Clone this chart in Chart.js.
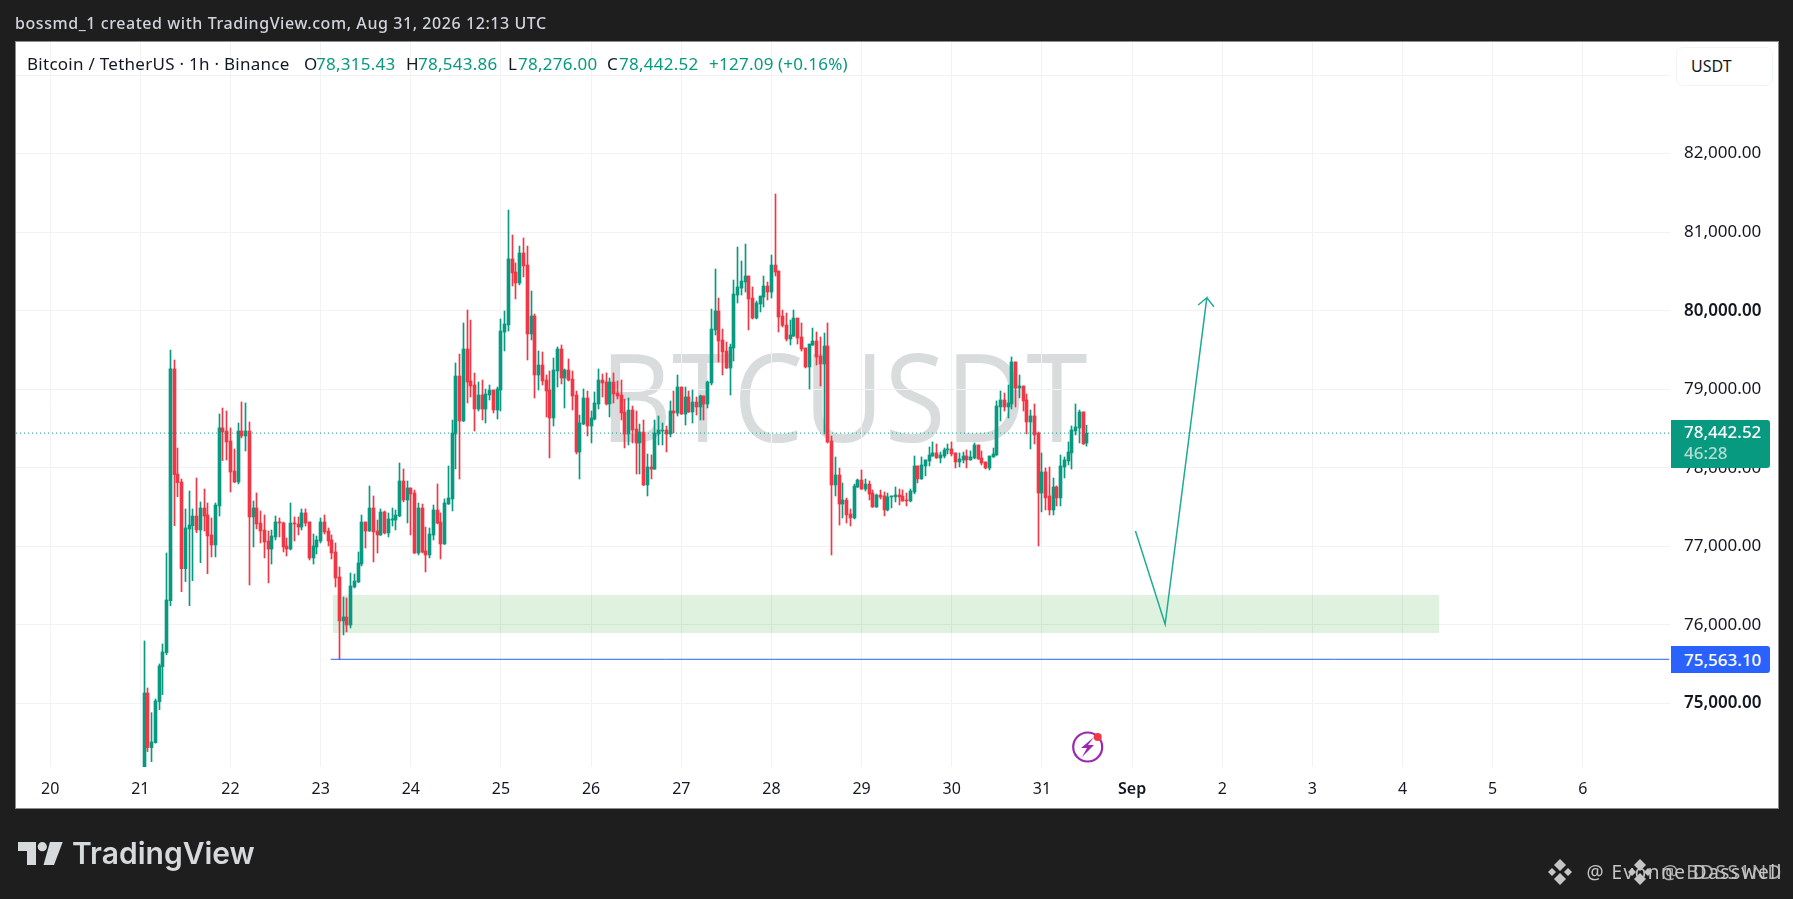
<!DOCTYPE html>
<html>
<head>
<meta charset="utf-8">
<script src="https://cdn.jsdelivr.net/npm/chart.js@4"></script>
<style>
html, body { margin: 0; padding: 0; background: #1e1e1e; width: 1793px; height: 899px; overflow: hidden; font-family: "Noto Sans", sans-serif; }
.abs { position: absolute; white-space: nowrap; }
#panel { left: 15px; top: 41px; width: 1762px; height: 766px; background: #fff; border: 1px solid #8c8c8c; }
#wm { left: 600px; top: 310px; font: 400 123px "Open Sans", sans-serif; line-height: 170px; color: #d9dcdd; transform-origin: 0 0; transform: scaleX(.905); }
canvas { position: absolute; left: 0; top: 0; display: block; }
#title { left: 15px; top: 11px; font-size: 16px; line-height: 24px; font-weight: 500; color: #d1d4dc; letter-spacing: .57px; }
.lg { top: 52px; font-size: 17px; line-height: 24px; color: #131722; letter-spacing: .27px; }
.up { color: #089981; }
#usdt { left: 1676px; top: 47px; width: 95px; height: 37px; border: 1px solid #f0f3fa; border-radius: 7px; background: #fff; font-size: 16px; line-height: 37px; text-indent: 14px; color: #131722; }
.tag { left: 1671px; width: 99px; border-radius: 0 3px 3px 0; color: #fff; font-size: 17px; font-weight: 500; text-indent: 13px; }
#tagLast { top: 420px; height: 48px; background: #089981; line-height: 24px; }
#tagLast div + div { color: #b5ddd4; margin-top: -3px; }
#tagLow { top: 646px; height: 27px; background: #2962ff; line-height: 27px; }
#logoText { left: 72px; top: 833px; font: 600 30px Inter, sans-serif; line-height: 40px; color: #d7dadb; letter-spacing: 0; }
.mark { font-size: 19px; line-height: 24px; color: #c4c6c6; top: 860px; right: 10px; letter-spacing: 1.5px; }
</style>
</head>
<body>
<div class="abs" id="panel"></div>
<div class="abs" id="wm">BTCUSDT</div>
<canvas id="chart" width="1793" height="899"></canvas>

<div class="abs" id="title">bossmd_1 created with TradingView.com, Aug 31, 2026 12:13 UTC</div>
<div class="abs lg" style="left:27px">Bitcoin / TetherUS · 1h · Binance</div>
<div class="abs lg" style="left:304px">O</div><div class="abs lg up" style="left:316px">78,315.43</div>
<div class="abs lg" style="left:406px">H</div><div class="abs lg up" style="left:418px">78,543.86</div>
<div class="abs lg" style="left:508px">L</div><div class="abs lg up" style="left:518px">78,276.00</div>
<div class="abs lg" style="left:607px">C</div><div class="abs lg up" style="left:619px">78,442.52</div>
<div class="abs lg up" style="left:709px">+127.09</div><div class="abs lg up" style="left:778px">(+0.16%)</div>
<div class="abs" id="usdt">USDT</div>
<div class="abs tag" id="tagLast"><div>78,442.52</div><div>46:28</div></div>
<div class="abs tag" id="tagLow">75,563.10</div>

<svg class="abs" style="left:0;top:0;pointer-events:none" width="1793" height="899">
  <circle cx="1087.7" cy="747" r="14.5" fill="#fff" stroke="#9c27b0" stroke-width="2.2"/>
  <polygon points="1094,737 1081,748 1087,748 1082,757 1094,745 1088,745" fill="#9c27b0"/>
  <circle cx="1097.7" cy="737" r="4" fill="#f23645"/>
  <polygon points="18,842 36,842 36,865 27,865 27,851 18,851" fill="#d7dadb"/>
  <circle cx="42.3" cy="846.7" r="4.6" fill="#d7dadb"/>
  <polygon points="50,842 62.7,842 54,865 43.5,865" fill="#d7dadb"/>
  <g fill="#c4c6c6">
    <polygon points="1560,859 1566,865 1560,871 1554,865"/><polygon points="1560,873 1566,879 1560,885 1554,879"/>
    <polygon points="1552,868 1556,872 1552,876 1548,872"/><polygon points="1568,868 1572,872 1568,876 1564,872"/>
    <polygon points="1640,859 1646,865 1640,871 1634,865"/><polygon points="1640,873 1646,879 1640,885 1634,879"/>
    <polygon points="1632,868 1636,872 1632,876 1628,872"/><polygon points="1648,868 1652,872 1648,876 1644,872"/>
  </g>
</svg>
<div class="abs" id="logoText">TradingView</div>
<div class="abs mark">@ Evonne Dasswell</div>
<div class="abs mark" style="opacity:.85">@ BDSS1ND</div>

<script>
// 1h candles, first one is Aug 21 01:00, hours counted from Aug 20 00:00
const FIRST_HOUR = 25;

const OPENS = [
  74150, 75134, 74439, 74502, 75024, 75470, 75648, 76310, 79259, 77922, 77820, 76717,
  77222, 77264, 77387, 77209, 77489, 77400, 77146, 77018, 77515, 78508, 78469, 78342,
  77960, 77820, 78469, 78406, 78469, 77375, 77489, 77298, 77209, 77069, 76967, 77120,
  77311, 77298, 77006, 76967, 77298, 77286, 77247, 77426, 77311, 76853, 76993, 77069,
  77311, 77196, 77082, 76929, 76611, 76051, 76102, 76000, 76484, 76547, 76776, 77311,
  77196, 77489, 77196, 77146, 77438, 77171, 77336, 77336, 77387, 77833, 77591, 77744,
  77680, 76916, 77489, 76942, 76891, 77145, 77464, 77311, 77031, 77540, 77604, 78431,
  79169, 78597, 79513, 79106, 79055, 78749, 78928, 78749, 78928, 78991, 78737, 78991,
  79729, 79819, 80659, 80493, 80353, 80735, 80582, 79704, 79933, 79182, 79309, 79118,
  78991, 78635, 79233, 79513, 79144, 79246, 79131, 78928, 78202, 78558, 78889, 78533,
  78622, 78813, 79118, 79093, 78813, 79093, 78953, 78927, 78711, 78431, 78736, 78495,
  78316, 78456, 77782, 78011, 77985, 78431, 78469, 78482, 78431, 78724, 78698, 79029,
  78685, 78902, 78711, 78838, 78775, 78915, 78813, 79080, 79755, 79997, 79627, 79487,
  79271, 79526, 80200, 80289, 80366, 80442, 80162, 79907, 80086, 80175, 80315, 80238,
  80582, 80506, 79933, 79818, 79640, 79678, 79907, 79666, 79526, 79284, 79564, 79615,
  79424, 79322, 79551, 78342, 77782, 77909, 77540, 77591, 77413, 77362, 77756, 77845,
  77731, 77794, 77680, 77502, 77654, 77642, 77464, 77630, 77630, 77655, 77642, 77591,
  77579, 77693, 78024, 77859, 78024, 78088, 78151, 78190, 78126, 78151, 78228, 78241,
  78190, 78075, 78101, 78151, 78101, 78126, 78291, 78126, 78075, 77999, 78139, 78164,
  78775, 78864, 78775, 78813, 79348, 79017, 79042, 78864, 78584, 78661, 78444, 77680,
  77948, 77642, 77464, 77757, 77617, 78011, 78088, 78190, 78470, 78508, 78712, 78315.43,
];

const HIGHS = [
  75796, 75198, 74884, 75058, 75504, 75758, 76916, 79500, 79373, 78253, 77858, 77477,
  77706, 77477, 77871, 77566, 77731, 77553, 77362, 77553, 78686, 78762, 78724, 78508,
  78240, 78571, 78839, 78826, 78584, 77578, 77680, 77451, 77400, 77196, 77209, 77387,
  77362, 77311, 77107, 77553, 77375, 77375, 77477, 77477, 77311, 77158, 77133, 77362,
  77400, 77235, 77146, 77044, 76738, 76356, 76344, 76662, 76649, 76929, 77400, 77311,
  77769, 77642, 77336, 77477, 77451, 77426, 77489, 77464, 78062, 77986, 77833, 77744,
  77718, 77553, 77540, 77247, 77235, 77527, 77795, 77426, 77604, 78024, 78609, 79335,
  79449, 79844, 80010, 79882, 79208, 79093, 79118, 79004, 79055, 78991, 79029, 79895,
  79997, 81282, 80964, 80608, 80824, 80926, 80824, 80251, 79959, 79488, 79475, 79182,
  79233, 79399, 79539, 79564, 79259, 79386, 79233, 78978, 78673, 79004, 78978, 78724,
  78966, 79259, 79195, 79208, 79144, 79208, 79106, 79118, 78876, 78889, 78787, 78724,
  78558, 78609, 78176, 78164, 78609, 78660, 78571, 78533, 78851, 78978, 79182, 79029,
  79029, 78978, 78991, 78902, 78927, 78915, 79105, 80022, 80531, 80162, 79767, 79602,
  79576, 80391, 80811, 80633, 80849, 80442, 80302, 80124, 80187, 80442, 80366, 80709,
  81486, 80506, 80009, 79971, 79882, 80009, 79907, 79844, 79526, 79576, 79780, 79729,
  79666, 79716, 79844, 78405, 78138, 77998, 77807, 77616, 77476, 77794, 77858, 77973,
  77858, 77833, 77718, 77667, 77718, 77693, 77680, 77642, 77757, 77731, 77719, 77680,
  77731, 78151, 78024, 78139, 78101, 78266, 78330, 78304, 78202, 78253, 78304, 78330,
  78190, 78190, 78202, 78228, 78215, 78317, 78291, 78215, 78075, 78151, 78253, 78852,
  78979, 78953, 79055, 79412, 79348, 79182, 79042, 78941, 78737, 78813, 78457, 78190,
  77999, 78011, 77871, 77770, 78164, 78139, 78330, 78533, 78813, 78737, 78712, 78543.86,
];

const LOWS = [
  74120, 74388, 74260, 74495, 74922, 75113, 75622, 76246, 77264, 77633, 76424, 76552,
  76246, 76564, 77175, 76793, 77196, 76653, 76866, 76866, 77387, 78092, 78100, 77693,
  77812, 77795, 78380, 78215, 76509, 76993, 77222, 77044, 76853, 76535, 76776, 77082,
  77120, 76929, 76878, 76955, 77069, 77146, 77209, 77260, 76827, 76776, 76904, 77044,
  77158, 77006, 76840, 76484, 75563, 75873, 75911, 75962, 76471, 76540, 76751, 76980,
  77190, 76802, 76916, 77140, 77158, 77120, 77260, 77209, 77380, 77566, 77298, 77146,
  76910, 76891, 76916, 76675, 76853, 77082, 77286, 76840, 77025, 77535, 77451, 77986,
  77858, 78590, 78826, 78902, 78469, 78724, 78609, 78571, 78864, 78698, 78622, 78724,
  79488, 79742, 80315, 80150, 80328, 80430, 79373, 79628, 78889, 78991, 79055, 78648,
  78126, 78533, 79029, 79068, 78762, 79106, 78737, 78177, 77858, 78550, 78406, 78317,
  78609, 78749, 78902, 78800, 78648, 78826, 78877, 78609, 78253, 78291, 78316, 77922,
  77922, 77775, 77642, 77858, 77980, 78291, 78291, 78202, 78393, 78444, 78660, 78680,
  78545, 78705, 78571, 78673, 78609, 78609, 78762, 79055, 79691, 79347, 79182, 79265,
  78927, 79360, 80098, 80200, 80238, 79755, 79895, 79895, 79984, 80047, 80137, 80162,
  80442, 79729, 79793, 79615, 79564, 79672, 79576, 79487, 79271, 79004, 79558, 79309,
  79042, 78431, 78316, 76891, 77642, 77272, 77362, 77298, 77260, 77349, 77750, 77725,
  77705, 77591, 77497, 77497, 77603, 77388, 77451, 77490, 77566, 77528, 77574, 77515,
  77566, 77668, 77808, 77854, 77897, 78024, 78146, 78121, 78062, 78126, 78177, 78151,
  77999, 78011, 78062, 77999, 78096, 78113, 78108, 78037, 77986, 77973, 78134, 78159,
  78597, 78724, 78635, 78750, 78775, 78890, 78724, 78431, 78241, 78304, 77006, 77439,
  77464, 77400, 77400, 77515, 77515, 77871, 78037, 77986, 78419, 78317, 78299, 78276.00,
];

const CLOSES = [
  75134, 74439, 74511, 75033, 75478, 75656, 76318, 79259, 77914, 77812, 76717, 77235,
  77273, 77387, 77209, 77489, 77387, 77133, 77018, 77527, 78508, 78457, 78329, 77947,
  77820, 78469, 78406, 78469, 77375, 77489, 77286, 77196, 77056, 76967, 77133, 77311,
  77298, 76993, 76967, 77298, 77286, 77247, 77426, 77298, 76853, 77006, 77082, 77311,
  77184, 77069, 76916, 76598, 76051, 76102, 76000, 76496, 76560, 76789, 77311, 77196,
  77489, 77184, 77146, 77438, 77171, 77349, 77349, 77400, 77833, 77591, 77744, 77667,
  76916, 77489, 76929, 76891, 77158, 77464, 77298, 77031, 77553, 77616, 78444, 79169,
  78597, 79513, 79093, 79042, 78749, 78928, 78749, 78940, 78991, 78737, 79004, 79742,
  79831, 80659, 80481, 80353, 80735, 80570, 79704, 79933, 79182, 79309, 79106, 78978,
  78635, 79246, 79513, 79144, 79246, 79118, 78915, 78202, 78571, 78889, 78533, 78635,
  78826, 79118, 79080, 78813, 79093, 78940, 78915, 78698, 78431, 78736, 78482, 78316,
  78456, 77782, 78011, 77985, 78444, 78482, 78482, 78431, 78724, 78698, 79029, 78685,
  78902, 78711, 78838, 78775, 78915, 78813, 79093, 79767, 79997, 79615, 79475, 79271,
  79538, 80213, 80302, 80378, 80442, 80149, 79907, 80098, 80187, 80315, 80238, 80582,
  80493, 79920, 79814, 79640, 79691, 79907, 79653, 79513, 79284, 79576, 79615, 79411,
  79322, 79551, 78329, 77782, 77909, 77540, 77591, 77400, 77362, 77769, 77845, 77731,
  77794, 77667, 77502, 77654, 77629, 77464, 77630, 77642, 77655, 77630, 77579, 77579,
  77706, 78024, 77859, 78037, 78101, 78164, 78190, 78126, 78164, 78228, 78241, 78177,
  78075, 78113, 78151, 78101, 78139, 78291, 78113, 78062, 77999, 78151, 78177, 78788,
  78864, 78775, 78826, 79348, 79017, 79042, 78852, 78584, 78661, 78419, 77680, 77948,
  77617, 77464, 77757, 77617, 78024, 78101, 78202, 78482, 78521, 78712, 78304, 78442.52,
];

const DAY_LABELS = ['20', '21', '22', '23', '24', '25', '26', '27', '28', '29', '30', '31', 'Sep', '2', '3', '4', '5', '6'];
const PRICE_TICKS = [75000, 76000, 77000, 78000, 79000, 80000, 81000, 82000, 83000];

const LAST_PRICE = 78442.52;
const LOW_LINE = 75563.10;
const LOW_LINE_HOURS = [74.7, 431];
const ZONE_TOP = 76381;
const ZONE_BOTTOM = 75898;
const ZONE_HOURS = [75.2, 369.8];
const ARROW_HOURS = [288.9, 296.8, 307.9, 305.6, 307.9, 309.8];
const ARROW_PRICES = [77196, 76008, 80166, 80073, 80166, 80051];

const X_MIN = -9.1, X_MAX = 431.2;
const Y_MIN = 74192, Y_MAX = 83421;

const UP = '#089981', DOWN = '#f23645';

const hours = OPENS.map((_, i) => FIRST_HOUR + i);
const colors = OPENS.map((o, i) => CLOSES[i] >= o ? UP : DOWN);
const fmt = v => v.toLocaleString('en-US', { minimumFractionDigits: 2, maximumFractionDigits: 2 });
const flatLine = (xs, y) => xs.map(x => ({ x, y }));

// keep wicks and bodies on whole pixels so they stay crisp
const snapBars = {
  id: 'snapBars',
  beforeDatasetsDraw(chart) {
    chart.getSortedVisibleDatasetMetas().forEach(meta => {
      if (meta.type !== 'bar') return;
      meta.data.forEach(el => { el.x = Math.floor(el.x) + 0.5; });
    });
  },
};

new Chart(document.getElementById('chart'), {
  type: 'bar',
  plugins: [snapBars],
  data: {
    datasets: [
      {
        type: 'line', label: 'arrow', order: 0,
        data: ARROW_HOURS.map((x, i) => ({ x, y: ARROW_PRICES[i] })),
        borderColor: '#22ab94', borderWidth: 1.5, pointRadius: 0, tension: 0,
      },
      {
        type: 'line', label: 'low', order: 1,
        data: flatLine(LOW_LINE_HOURS, LOW_LINE),
        borderColor: '#2962ff', borderWidth: 1, pointRadius: 0,
      },
      {
        label: 'body', order: 2,
        data: hours.map((x, i) => ({ x, y: [OPENS[i], CLOSES[i]] })),
        backgroundColor: colors, barThickness: 3, minBarLength: 1, grouped: false,
      },
      {
        label: 'wick', order: 3,
        data: hours.map((x, i) => ({ x, y: [LOWS[i], HIGHS[i]] })),
        backgroundColor: colors, barThickness: 1, grouped: false,
      },
      {
        type: 'line', label: 'last', order: 4,
        data: flatLine([X_MIN, X_MAX], LAST_PRICE),
        borderColor: UP, borderWidth: 1, borderDash: [1, 3], pointRadius: 0,
      },
      {
        type: 'line', label: 'zone', order: 5,
        data: flatLine(ZONE_HOURS, ZONE_TOP),
        borderWidth: 0, pointRadius: 0,
        fill: { target: { value: ZONE_BOTTOM } },
        backgroundColor: 'rgba(76,175,80,0.18)',
      },
    ],
  },
  options: {
    responsive: false,
    animation: false,
    events: [],
    layout: { padding: { left: 16, top: 42, right: 15, bottom: 91 } },
    plugins: { legend: { display: false }, tooltip: { enabled: false } },
    scales: {
      x: {
        type: 'linear',
        offset: false,
        min: X_MIN, max: X_MAX,
        afterFit: s => { s.height = 41; },
        afterBuildTicks: s => { s.ticks = DAY_LABELS.map((_, i) => ({ value: i * 24 })); },
        grid: { color: '#f1f2f4', lineWidth: 1, drawTicks: false, offset: false },
        border: { display: false },
        ticks: {
          autoSkip: false, maxRotation: 0, padding: 13, color: '#131722',
          font: ctx => ({ family: 'Noto Sans', size: 16, weight: DAY_LABELS[ctx.index] === 'Sep' ? '600' : '400' }),
          callback: (v, i) => DAY_LABELS[i],
        },
      },
      y: {
        type: 'linear',
        position: 'right',
        min: Y_MIN, max: Y_MAX,
        afterFit: s => { s.width = 108; },
        afterBuildTicks: s => { s.ticks = PRICE_TICKS.map(value => ({ value })); },
        grid: { color: '#f1f2f4', lineWidth: 1, drawTicks: false },
        border: { display: false },
        ticks: {
          padding: 14, color: '#131722',
          font: ctx => ({ family: 'Noto Sans', size: 17, weight: ctx.tick && ctx.tick.value % 5000 === 0 ? '600' : '400' }),
          // 83,000 only keeps its grid line, the label sits under the USDT button
          callback: v => v === 83000 ? '' : fmt(v),
        },
      },
    },
  },
});
</script>
</body>
</html>
